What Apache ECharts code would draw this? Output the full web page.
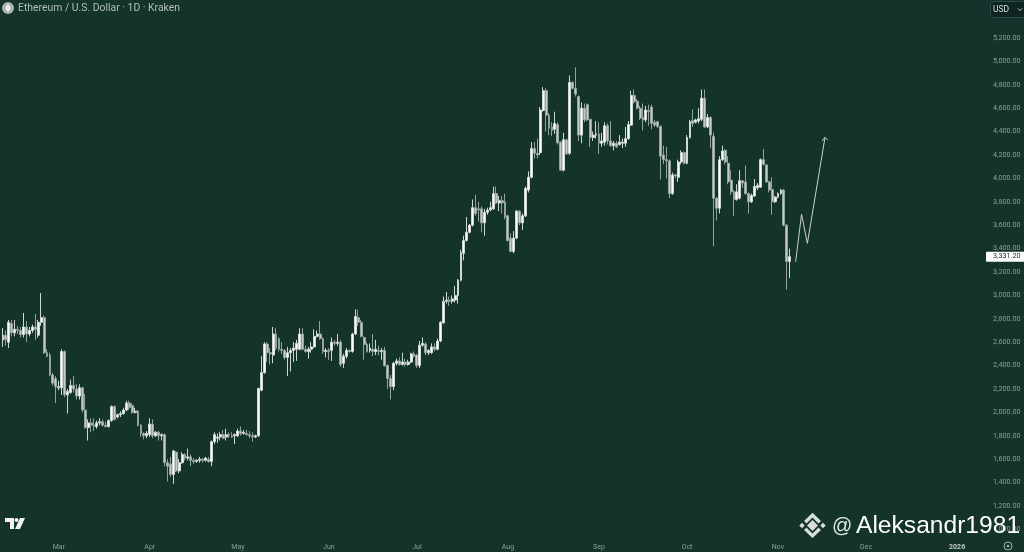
<!DOCTYPE html>
<html><head><meta charset="utf-8">
<style>html,body{margin:0;padding:0;background:#13332b}#c{width:1024px;height:552px}</style>
<script src="https://cdn.jsdelivr.net/npm/echarts@6/dist/echarts.min.js"></script>
</head><body><div id="c"></div>
<script>
const startDate = '2025-02-10';
const slotCount = 335;
const monthTicks = [['2025-03-01','Mar'],['2025-04-01','Apr'],['2025-05-01','May'],['2025-06-01','Jun'],['2025-07-01','Jul'],['2025-08-01','Aug'],['2025-09-01','Sep'],['2025-10-01','Oct'],['2025-11-01','Nov'],['2025-12-01','Dec'],['2026-01-01','2026']];
const lastPrice = 3331.2;
const opens = [
2620,2660,2600,2760,2680,2710,2700,2665,2730,2670,
2700,2730,2660,2770,2810,2510,2490,2320,2290,2210,
2210,2520,2150,2170,2230,2200,2140,2210,2020,1870,
1910,1890,1880,1910,1920,1890,1880,1930,2050,1960,
1980,1990,2020,2080,2060,2000,2010,1890,1820,1800,
1810,1900,1800,1830,1800,1810,1570,1560,1470,1660,
1500,1570,1640,1610,1620,1590,1580,1590,1600,1590,
1600,1580,1750,1780,1790,1810,1790,1810,1800,1800,
1800,1840,1820,1820,1810,1800,1790,1800,2190,2340,
2585,2510,2490,2670,2630,2540,2530,2470,2510,2530,
2540,2540,2670,2540,2520,2540,2560,2650,2670,2630,
2520,2530,2530,2600,2590,2600,2420,2480,2530,2520,
2670,2810,2770,2640,2580,2530,2540,2520,2530,2520,
2530,2400,2290,2220,2420,2440,2410,2430,2410,2430,
2500,2490,2400,2575,2585,2510,2510,2560,2540,2610,
2765,2950,2960,2950,2960,3000,3130,3360,3470,3540,
3600,3750,3740,3740,3620,3710,3730,3740,3870,3790,
3810,3800,3680,3490,3375,3490,3720,3620,3680,3900,
4010,4255,4215,4220,4580,4750,4540,4440,4420,4460,
4310,4070,4330,4215,4820,4770,4700,4370,4600,4630,
4505,4350,4370,4380,4300,4310,4450,4320,4280,4300,
4290,4300,4300,4340,4455,4710,4660,4600,4520,4500,
4580,4610,4480,4485,4445,4200,4160,4150,3870,4030,
4010,4140,4220,4130,4350,4495,4480,4490,4505,4685,
4440,4520,4360,3830,3745,4160,4240,4130,3985,3885,
3820,3830,3980,3970,3870,3800,3850,3920,3925,4160,
4115,3970,3905,3800,3840,3870,3900,3600,3290];
const closes = [
2660,2620,2770,2680,2710,2700,2665,2730,2670,2700,
2730,2710,2770,2810,2510,2480,2320,2250,2220,2220,
2520,2150,2180,2230,2200,2140,2210,2020,1870,1910,
1890,1880,1910,1920,1890,1880,1930,2050,1940,1980,
1990,2020,2080,2040,2000,2010,1890,1820,1800,1820,
1900,1800,1830,1800,1810,1570,1540,1470,1670,1500,
1570,1640,1610,1620,1590,1580,1590,1600,1590,1610,
1580,1750,1810,1790,1810,1780,1810,1800,1790,1810,
1840,1820,1830,1810,1800,1790,1800,2205,2340,2585,
2510,2500,2670,2550,2540,2530,2470,2510,2530,2550,
2590,2670,2540,2520,2540,2560,2650,2670,2630,2520,
2530,2520,2600,2590,2600,2410,2480,2530,2520,2670,
2820,2770,2650,2580,2520,2550,2520,2540,2520,2530,
2400,2290,2220,2420,2440,2410,2430,2410,2430,2500,
2480,2400,2575,2590,2510,2530,2560,2540,2610,2770,
2950,2960,2950,2970,3000,3130,3365,3470,3540,3600,
3750,3700,3730,3620,3710,3730,3750,3870,3790,3810,
3790,3670,3470,3375,3490,3720,3620,3680,3915,4010,
4255,4215,4200,4585,4750,4540,4430,4410,4470,4305,
4070,4330,4210,4820,4770,4720,4370,4600,4500,4500,
4350,4370,4380,4300,4320,4450,4320,4280,4300,4270,
4310,4310,4340,4460,4710,4655,4600,4515,4500,4585,
4570,4470,4455,4445,4190,4160,4150,3870,4030,4020,
4140,4220,4130,4350,4485,4470,4500,4510,4685,4440,
4520,4370,3830,3745,4160,4235,4140,3970,3885,3820,
3885,3980,3960,3870,3800,3855,3930,3940,4160,4120,
3970,3900,3800,3840,3870,3900,3600,3290,3331.2];
const highs = [
2720,2700,2790,2790,2790,2740,2730,2850,2780,2730,
2750,2840,2790,3020,2830,2540,2510,2340,2310,2270,
2540,2530,2200,2280,2310,2240,2240,2220,2160,1940,
1950,1950,1930,1950,1940,1920,1940,2060,2060,1990,
2010,2040,2100,2100,2080,2040,2020,1900,1830,1840,
1950,1940,1840,1840,1820,1820,1600,1620,1680,1670,
1600,1660,1650,1690,1640,1610,1600,1620,1610,1620,
1620,1760,1830,1820,1830,1850,1860,1830,1830,1820,
1860,1880,1850,1850,1840,1830,1810,2210,2480,2600,
2600,2550,2730,2720,2640,2600,2540,2560,2550,2600,
2620,2720,2720,2570,2560,2600,2710,2700,2780,2640,
2550,2550,2640,2620,2670,2620,2500,2550,2540,2680,
2880,2880,2790,2650,2600,2590,2670,2620,2570,2550,
2560,2410,2320,2430,2460,2470,2510,2460,2450,2510,
2520,2500,2610,2640,2600,2540,2590,2590,2630,2780,
2990,3030,2990,3000,3080,3140,3390,3510,3670,3610,
3820,3860,3800,3760,3740,3750,3800,3930,3930,3850,
3850,3870,3690,3530,3550,3730,3730,3700,3930,4060,
4310,4310,4340,4610,4780,4770,4560,4480,4570,4480,
4320,4390,4340,4880,4830,4950,4710,4650,4640,4640,
4510,4400,4490,4480,4390,4480,4470,4490,4320,4320,
4370,4340,4440,4490,4750,4760,4680,4620,4640,4620,
4630,4630,4500,4490,4450,4280,4270,4160,4050,4040,
4160,4240,4230,4370,4500,4590,4510,4600,4760,4760,
4550,4530,4390,3840,4190,4280,4250,4190,4070,3900,
3950,4070,3985,4110,3880,3870,3995,3960,4170,4250,
4120,3980,4010,3850,3880,3910,3910,3610,3400];
const lows = [
2560,2570,2550,2650,2650,2670,2640,2640,2600,2650,
2680,2620,2640,2740,2500,2470,2310,2230,2080,2190,
2150,2130,1990,2160,2170,2110,2110,2000,1860,1760,
1830,1840,1860,1890,1880,1870,1870,1920,1930,1950,
1960,1980,2010,2020,1990,1990,1880,1790,1770,1780,
1790,1780,1790,1760,1760,1540,1410,1450,1390,1490,
1480,1560,1590,1590,1540,1560,1570,1570,1570,1580,
1570,1540,1730,1740,1760,1770,1760,1780,1780,1730,
1790,1800,1810,1800,1780,1750,1780,1790,2180,2330,
2430,2410,2420,2530,2520,2500,2450,2310,2350,2430,
2440,2530,2530,2510,2460,2510,2550,2640,2620,2500,
2470,2450,2440,2570,2570,2390,2380,2460,2510,2510,
2660,2740,2640,2450,2510,2510,2480,2490,2490,2450,
2390,2200,2110,2190,2400,2400,2400,2390,2400,2420,
2470,2380,2380,2560,2490,2490,2500,2520,2530,2600,
2760,2930,2910,2930,2940,2930,3120,3300,3460,3530,
3590,3680,3630,3540,3510,3690,3720,3730,3780,3720,
3700,3650,3460,3370,3360,3480,3600,3560,3670,3880,
4000,4170,4170,4200,4570,4400,4370,4360,4380,4290,
4070,4060,4200,4200,4760,4700,4320,4300,4480,4490,
4270,4320,4340,4210,4270,4280,4290,4270,4240,4260,
4280,4260,4270,4330,4450,4640,4590,4500,4410,4480,
4450,4420,4440,4430,3990,4120,4000,3830,3860,4000,
3970,4120,4120,4120,4340,4440,4470,4470,4490,4430,
4430,4260,3420,3640,3700,4150,4120,3950,3860,3680,
3810,3820,3920,3860,3700,3790,3840,3900,3920,4110,
3960,3880,3690,3790,3830,3860,3590,3050,3150];
// hand-drawn forecast path and its arrow head: [slot, price]
const drawnPath = [[270,3288],[272,3693],[274,3445],[280,4351]];
const drawnHead = [[279,4320],[280,4351],[281,4325]];

const categories = [];
for (let i = 0; i < slotCount; i++) {
  const d = new Date(Date.parse(startDate + 'T00:00:00Z') + i * 86400000);
  categories.push(d.toISOString().slice(0, 10));
}
const tickMap = Object.fromEntries(monthTicks);
const candles = opens.map((o, i) => [o, closes[i], lows[i], highs[i]]);
const fmtPrice = v => v.toLocaleString('en-US', {minimumFractionDigits: 2, maximumFractionDigits: 2});
const AX = '#8f9f9a', BG = '#13332b', FONT = 'Roboto, sans-serif';

const chart = echarts.init(document.getElementById('c'), null, {renderer: 'canvas'});
chart.setOption({
  animation: false,
  backgroundColor: BG,
  grid: {left: 0, right: 39, top: 14.6, height: 514.8, containLabel: false},
  xAxis: {
    type: 'category', data: categories, boundaryGap: true,
    axisLine: {show: false}, axisTick: {show: false}, splitLine: {show: false},
    axisLabel: {
      interval: 0, margin: 14, fontSize: 7, fontFamily: FONT, color: AX,
      formatter: v => {
        const t = tickMap[v] || '';
        return /^\d+$/.test(t) ? '{y|' + t + '}' : t;
      },
      rich: {y: {fontSize: 7, fontWeight: 'bold', fontFamily: FONT, color: '#c3ccc8'}}
    }
  },
  yAxis: {
    type: 'value', position: 'right', min: 1000, max: 5400, interval: 200, scale: true,
    axisLine: {show: false}, axisTick: {show: false}, splitLine: {show: false},
    axisLabel: {margin: 8, fontSize: 7.2, fontFamily: FONT, color: AX, padding: [4, 0, 0, 0],
      formatter: v => v > 5200 ? '' : fmtPrice(v)}
  },
  series: [
    {
      type: 'candlestick', data: candles, barWidth: 2.4, silent: true,
      itemStyle: {color: '#ffffff', color0: '#c4cbc8', borderColor: '#cfd6d3', borderColor0: '#93a29d', borderWidth: 1},
      markLine: {
        silent: true, symbol: 'none', animation: false,
        lineStyle: {color: 'rgba(0,0,0,0)', width: 0},
        data: [{yAxis: lastPrice}],
        label: {show: true, position: 'end', distance: 1, formatter: () => fmtPrice(lastPrice),
          color: '#1b2b27', backgroundColor: '#ffffff', fontSize: 7.2, fontFamily: FONT,
          padding: [2, 7, 1, 7], borderRadius: 1}
      }
    },
    {type: 'line', data: drawnPath, symbol: 'none', silent: true, lineStyle: {color: '#c9d0cd', width: 1}},
    {type: 'line', data: drawnHead, symbol: 'none', silent: true, lineStyle: {color: '#c9d0cd', width: 1}}
  ],
  graphic: [
    {type: 'circle', shape: {cx: 8, cy: 8, r: 6}, style: {fill: '#a8b3af'}, z: 50},
    {type: 'polygon', shape: {points: [[8,3.5],[11,8],[8,12.5],[5,8]]}, style: {fill: '#e8ecea'}, z: 51},
    {type: 'text', style: {text: 'Ethereum / U.S. Dollar · 1D · Kraken', x: 18, y: 8, verticalAlign: 'middle', fontSize: 10.4, fontFamily: FONT, fill: '#b3bdb9'}, z: 50},
    {type: 'rect', shape: {x: 990.5, y: 1.5, width: 36, height: 16, r: 3}, style: {fill: '#0e2420', stroke: '#2e4a44', lineWidth: 1}, z: 50},
    {type: 'text', style: {text: 'USD', x: 993, y: 9.5, verticalAlign: 'middle', fontSize: 8.5, fontFamily: FONT, fill: '#d5dbd9'}, z: 51},
    {type: 'polyline', shape: {points: [[1018,8.5],[1020,10.5],[1022,8.5]]}, style: {stroke: '#c5cdca', fill: 'none', lineWidth: 1}, z: 51},
    // TV logo
    {type: 'polygon', shape: {points: [[5,518],[14,518],[14,529],[10,529],[10,522],[5,522]]}, style: {fill: '#f2f4f3'}, z: 50},
    {type: 'circle', shape: {cx: 16.5, cy: 520, r: 2}, style: {fill: '#f2f4f3'}, z: 50},
    {type: 'polygon', shape: {points: [[20,518],[25,518],[20,529],[15,529]]}, style: {fill: '#f2f4f3'}, z: 50},
    // Settings ring on time axis
    {type: 'circle', shape: {cx: 1008, cy: 546, r: 4}, style: {fill: 'none', stroke: '#a3afab', lineWidth: 1}, z: 50},
    {type: 'circle', shape: {cx: 1008, cy: 546, r: 1.3}, style: {fill: '#a3afab'}, z: 50},
    // Watermark logo
    {type: 'polygon', shape: {points: [[812.5,520],[818,525.5],[812.5,531],[807,525.5]]}, style: {fill: '#d9dedc'}, z: 60},
    {type: 'polygon', shape: {points: [[812.5,512.7],[821,521],[818.5,523.5],[812.5,517.5],[806.5,523.5],[804,521]]}, style: {fill: '#d9dedc'}, z: 60},
    {type: 'polygon', shape: {points: [[812.5,538],[821,530],[818.5,527.5],[812.5,533.5],[806.5,527.5],[804,530]]}, style: {fill: '#d9dedc'}, z: 60},
    {type: 'polygon', shape: {points: [[802,522.8],[804.7,525.5],[802,528.2],[799.3,525.5]]}, style: {fill: '#d9dedc'}, z: 60},
    {type: 'polygon', shape: {points: [[823,522.8],[825.7,525.5],[823,528.2],[820.3,525.5]]}, style: {fill: '#d9dedc'}, z: 60},
    {type: 'text', style: {text: '@', x: 832, y: 526, verticalAlign: 'middle', fontSize: 20, fontFamily: '"Liberation Sans", Arial, sans-serif', fill: '#e3e7e5'}, z: 60},
    {type: 'text', style: {text: 'Aleksandr1981', x: 856, y: 526, verticalAlign: 'middle', fontSize: 24.6, fontFamily: '"Liberation Sans", Arial, sans-serif', fill: '#ffffff'}, z: 60}
  ]
});
</script></body></html>
